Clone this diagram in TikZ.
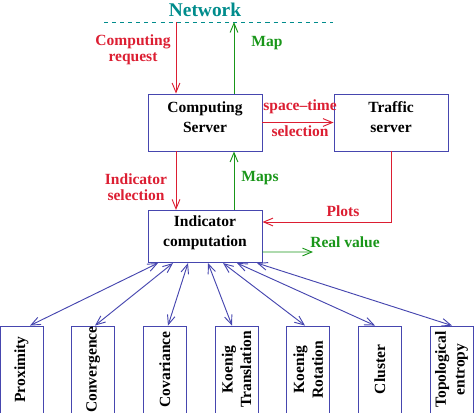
\documentclass[tikz,border=0pt]{standalone}
\usepackage{fontspec}
\setmainfont{Liberation Serif}
\usetikzlibrary{arrows.meta,calc}
\definecolor{netcol}{RGB}{0,140,140}
\definecolor{reqred}{RGB}{220,30,50}
\definecolor{mapgreen}{RGB}{25,150,25}
\definecolor{boxblue}{RGB}{70,70,175}
\tikzset{
  >={Straight Barb[length=6pt,width=5pt]},
  unit/.style={draw=boxblue,line width=0.6pt,minimum width=73.4pt,align=center,
    text depth=7pt,font=\bfseries\fontsize{10}{13}\selectfont},
  measure/.style={draw=boxblue,line width=0.6pt,rotate=90,inner sep=0pt,
    minimum width=56pt,minimum height=27.7pt,align=center,
    font=\bfseries\fontsize{10}{12}\selectfont},
  reqline/.style={draw=reqred,line width=0.6pt,->},
  mapline/.style={draw=mapgreen,line width=0.6pt,->},
  link/.style={draw=boxblue,line width=0.6pt,<->},
  reqtext/.style={text=reqred,align=center,font=\bfseries\fontsize{10}{10}\selectfont},
  maptext/.style={text=mapgreen,align=center,font=\bfseries\fontsize{10}{10}\selectfont}
}
\begin{document}
\begin{tikzpicture}[x=0.644pt,y=-0.644pt]
\useasboundingbox (0,0) rectangle (474,412);
\clip (0,0) rectangle (474,412);
\node[text=netcol,font=\bfseries\fontsize{12.5}{14}\selectfont] (net) at (205,10) {Network};
\coordinate (netL) at (104,22);
\coordinate (netR) at (333,22);
\draw[netcol,line width=0.6pt,dash pattern=on 2.6pt off 2.6pt] (netL) -- (netR);
\coordinate (reqtop) at (176,22);
\coordinate (maptop) at (234,22);
\node[unit,minimum height=36.7pt] (server) at (205,122.5) {Computing\\Server};
\node[unit,minimum height=36.7pt] (traffic) at (391,122.5) {Traffic\\server};
\node[unit,minimum height=32.8pt] (indic) at (205,236.5) {Indicator\\computation};
\draw[reqline] (reqtop) -- (reqtop |- server.north);
\node[reqtext] (reqlab) at (133,50) {Computing\\request};
\draw[mapline] (maptop |- server.north) -- (maptop);
\node[maptext] (maplab) at (267,43) {Map};
\draw[reqline] (server.east) -- (traffic.west);
\node[reqtext] (stlab) at (300,107) {space--time};
\node[reqtext] (sellab) at (300,131) {selection};
\draw[reqline] (reqtop |- server.south) -- (reqtop |- indic.north);
\node[reqtext] (indlab) at (136,187) {Indicator\\selection};
\draw[mapline] (maptop |- indic.north) -- (maptop |- server.south);
\node[maptext] (mapslab) at (260,178) {Maps};
\draw[reqline] (traffic.south) |- ([yshift=9.34pt]indic.east);
\node[reqtext] (plotlab) at (343,211) {Plots};
\coordinate (rv) at (313,252);
\draw[mapline] ([yshift=-9.98pt]indic.east) -- (rv);
\node[maptext] (rvlab) at (345,242) {Real value};
\foreach \n/\t [count=\i from 0] in {prox/Proximity,conv/Convergence,cov/Covariance,
    kt/Koenig\\Translation,kr/Koenig\\Rotation,clu/Cluster,topo/Topological\\entropy}
  \node[measure] (\n) at ({21.5+71.67*\i},369.5) {\t};
\foreach \n/\a/\b in {prox/158/30,conv/173/95,cov/188/168,kt/208/232,
    kr/223/305,clu/237/375,topo/257/452}
  \draw[link] (\a,0 |- indic.south) -- (\b,0 |- \n.east);
\end{tikzpicture}
\end{document}
